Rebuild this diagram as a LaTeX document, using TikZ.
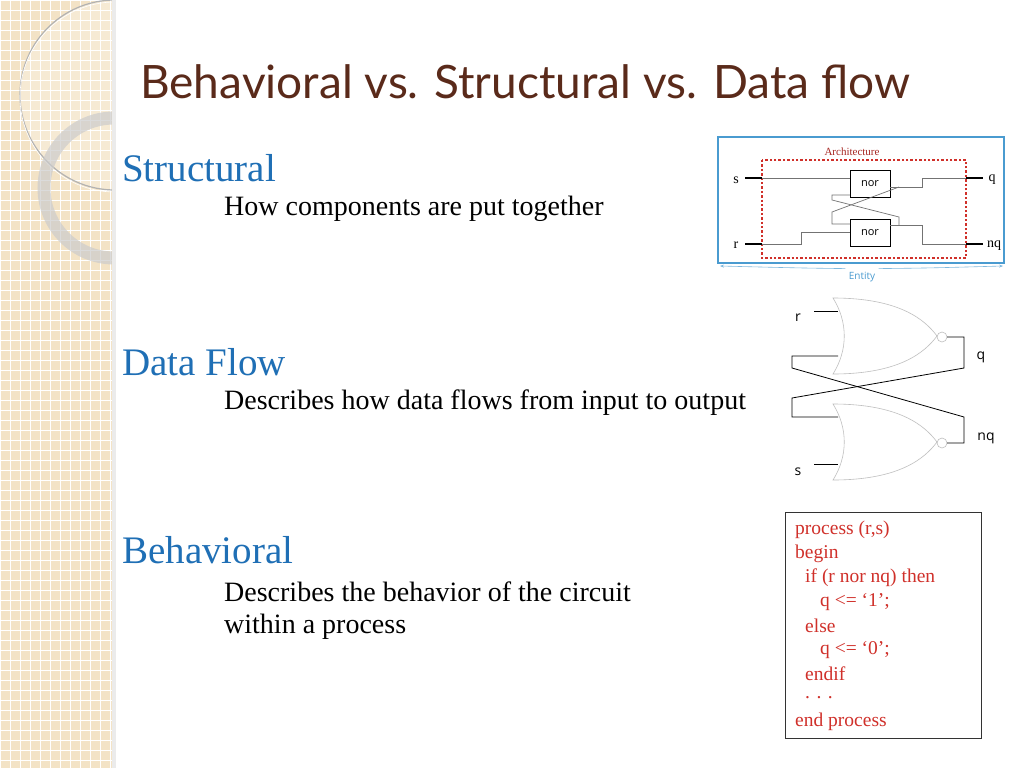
\documentclass[tikz,border=0pt]{standalone}
\usepackage{fontspec}
\setmainfont{Liberation Serif}
\newfontfamily\titlefont{Lato}
\newfontfamily\gs{Open Sans}
\usetikzlibrary{arrows.meta}
\definecolor{beige}{HTML}{F3E3C6}
\definecolor{ttl}{HTML}{5A2A1A}
\definecolor{hblue}{HTML}{1F6FB5}
\definecolor{bx}{HTML}{4A9BD0}
\definecolor{rd}{HTML}{D0302A}
\begin{document}
\begin{tikzpicture}[x=1pt,y=-1pt,
  wire/.style={draw=black!75,line width=0.8pt},
  pin/.style={line width=2.2pt},
  gate/.style={draw=black!25,line width=0.6pt},
  norbox/.style={draw,line width=0.8pt,minimum width=40pt,minimum height=27pt,inner sep=0pt,font=\gs\fontsize{11}{12}\selectfont},
  head/.style={anchor=west,text=hblue,font=\fontsize{39}{42}\selectfont,inner sep=0pt},
  sub/.style={anchor=west,align=left,font=\fontsize{28}{35}\selectfont,inner sep=0pt},
  code/.style={anchor=west,text=rd,font=\fontsize{19.5}{20}\selectfont,inner sep=0pt},
  lbl/.style={font=\gs\fontsize{14}{15}\selectfont,inner sep=0pt}]
\useasboundingbox (0,0) rectangle (1024,768);
\fill[white] (0,0) rectangle (1024,768);
% left bar
\begin{scope}
\clip (0,0) rectangle (112,768);
\fill[beige] (0,0) rectangle (112,768);
\foreach \i in {0,10,...,770}{\draw[white,line width=0.9pt] (\i,0)--(\i,768); \draw[white,line width=0.9pt] (0,\i)--(112,\i);}
\fill[white,opacity=0.25] (115,95) circle (95);
\draw[black!30,line width=1.2pt] (115,95) circle (95);
\draw[white,line width=0.6pt] (115,97) circle (95);
\draw[gray!40,opacity=0.7,line width=13pt] (114,188) circle (70);
\end{scope}
\fill[black!8] (112,0) rectangle (116,768);
% title
\node[anchor=west,text=ttl,font=\titlefont\fontsize{46}{50}\selectfont,inner sep=0pt] (title) at (140,82) {Behavioral vs. Structural vs. Data flow};
% texts
\node[head] (h1) at (122,168) {Structural};
\node[sub] (s1) at (224,209) {How components are put together};
\node[head] (h2) at (122,362) {Data Flow};
\node[sub] (s2) at (224,403) {Describes how data flows from input to output};
\node[head] (h3) at (122,550) {Behavioral};
\node[sub] (s3) at (224,592) {Describes the behavior of the circuit};
\node[sub] (s4) at (224,627) {within a process};
% architecture diagram
\draw[bx,line width=2pt] (718,137) rectangle (1004,263);
\draw[rd,line width=2.4pt,dotted] (762,160) rectangle (966,258);
\node[text=rd!80!black,font=\fontsize{11}{12}\selectfont] (arch) at (852,152) {Architecture};
\node[text=bx,font=\gs\fontsize{10}{10}\selectfont] (ent) at (862,277) {Entity};
\draw[bx!70,line width=0.6pt,{Stealth[length=4pt]}-] (720,266) .. controls (800,268) .. (ent.north west) ;
\draw[bx!70,line width=0.6pt,-{Stealth[length=4pt]}] (ent.north east) .. controls (930,268) .. (1003,266);
\node[norbox] (n1) at (870,183.5) {nor};
\node[norbox] (n2) at (870,233) {nor};
\node[font=\fontsize{14}{14}\selectfont] (ls) at (736,180) {s};
\node[font=\fontsize{14}{14}\selectfont] (lr) at (736,245) {r};
\node[font=\fontsize{14}{14}\selectfont] (lq) at (992,180) {q};
\node[font=\fontsize{14}{14}\selectfont] (lnq) at (994,246) {nq};
\draw[pin] (745,178)--(762,178); \draw[pin] (745,244)--(762,244);
\draw[pin] (966,178)--(983,178); \draw[pin] (966,244)--(983,244);
\begin{scope}[draw=black!55,line width=0.7pt]
\draw (762,178)--(850,178);
\draw (890,187)--(922,187)--(922,178)--(966,178);
\draw (899,187)--(832,212)--(832,224)--(850,224);
\draw (850,195)--(832,195)--(832,200)--(899,217)--(899,225);
\draw (890,225)--(922,225)--(922,244)--(966,244);
\draw (762,244)--(801,244)--(801,232)--(850,232);
\end{scope}
% gates
\draw[gate] (833,298) .. controls (900,298) and (925,320) .. (937,336) .. controls (925,352) and (900,374) .. (833,374) .. controls (848,350) and (848,322) .. cycle;
\draw[gate] (942,337) circle (5);
\draw[gate] (833,404) .. controls (900,404) and (925,426) .. (937,442) .. controls (925,458) and (900,480) .. (833,480) .. controls (848,456) and (848,428) .. cycle;
\draw[gate] (942,443) circle (5);
\begin{scope}[draw=black,line width=0.8pt]
\draw (814,311)--(838,311);
\draw (838,356)--(792,356)--(792,368)--(964,417)--(964,443)--(947,443);
\draw (947,337)--(964,337)--(964,368)--(792,398)--(792,417)--(838,417);
\draw (814,464)--(838,464);
\end{scope}
\node[lbl] (gr) at (798,318) {r};
\node[lbl] (gq) at (981,357) {q};
\node[lbl] (gnq) at (986,438) {nq};
\node[lbl] (gs) at (798,472) {s};
% code
\draw[black!80,line width=0.8pt] (785,512) rectangle (981,738);
\node[code] (c1) at (795,530) {process (r,s)};
\node[code] (c2) at (795,554) {begin};
\node[code] (c3) at (805,578) {if (r nor nq) then};
\node[code] (c4) at (820,602) {q <= ‘1’;};
\node[code] (c5) at (805,626) {else};
\node[code] (c6) at (820,650) {q <= ‘0’;};
\node[code] (c7) at (805,674) {endif};
\node[code] (c8) at (805,698) {. . .};
\node[code] (c9) at (795,722) {end process};
\end{tikzpicture}
\end{document}
